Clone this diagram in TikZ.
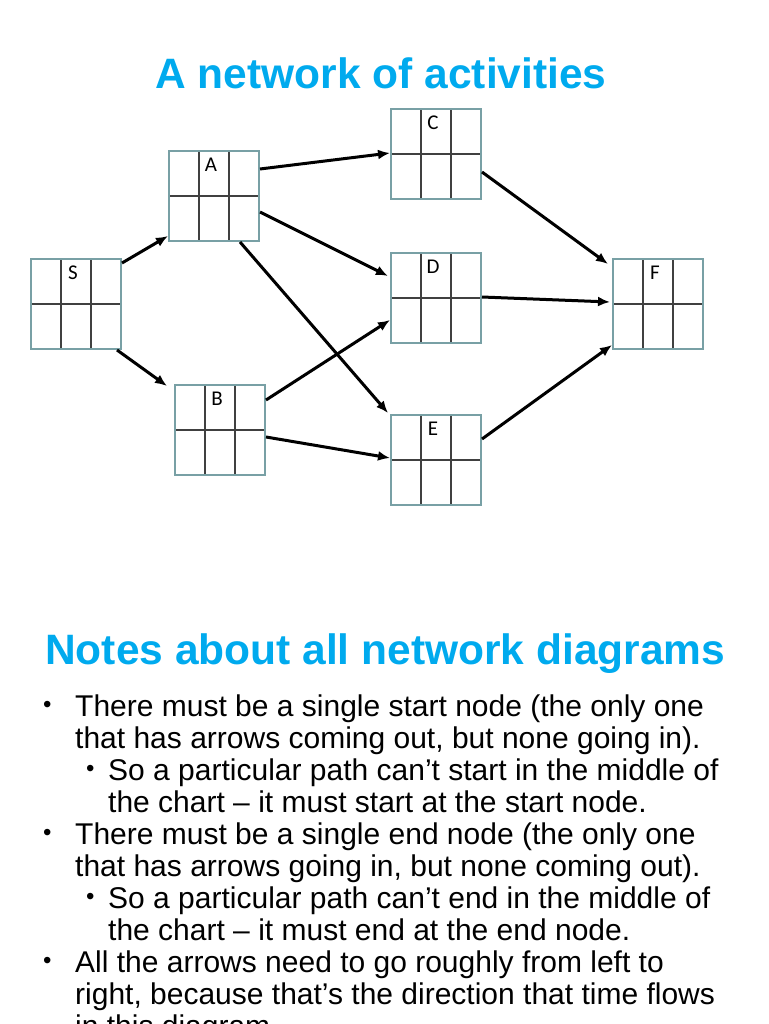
\documentclass[tikz,border=0pt]{standalone}
\usepackage{fontspec}
\setmainfont{Liberation Sans}
\newfontfamily\lblfont{Carlito}
\usetikzlibrary{arrows.meta}
\definecolor{ttl}{RGB}{0,170,238}
\definecolor{bx}{RGB}{120,160,165}
\begin{document}
\begin{tikzpicture}[x=1pt,y=-1pt,
  act/.style={draw=bx,line width=2pt,minimum size=90pt,inner sep=0pt,anchor=north west,
    path picture={\draw[line width=1.2pt,black!75] ([xshift=30pt]path picture bounding box.north west)--([xshift=30pt]path picture bounding box.south west)
      ([xshift=60pt]path picture bounding box.north west)--([xshift=60pt]path picture bounding box.south west)
      (path picture bounding box.west)--(path picture bounding box.east);}},
  lbl/.style={font=\lblfont\fontsize{21}{24}\selectfont,anchor=center},
  arr/.style={-{Latex[length=12pt,width=10pt]},line width=3pt},
  body/.style={anchor=base west,inner sep=0pt,font=\fontsize{30}{34}\selectfont},
  bul/.style={anchor=base west,inner sep=0pt,font=\fontsize{24}{28}\selectfont}]
\useasboundingbox (0,0) rectangle (768,1024);
\clip (0,0) rectangle (768,1024);
\node[anchor=base,text=ttl,font=\bfseries\fontsize{42.5}{46}\selectfont] (title) at (381,89) {A network of activities};
\foreach \n/\x/\y in {S/30/258,A/168/150,B/174/384,C/390/108,D/390/252,E/390/414,F/612/258}{
  \node[act] (\n) at (\x,\y) {};
  \node[lbl] (l\n) at (\x+43,\y+15) {\n};
}
\draw[arr] ([yshift=-5pt]S.north east) -- ([yshift=6pt]A.south west);
\draw[arr] ([xshift=-5pt]S.south east) -- ([xshift=-7pt,yshift=-2pt]B.north west);
\draw[arr] ([yshift=-19pt]A.north east) -- ([yshift=1pt]C.west);
\draw[arr] ([yshift=-62pt]A.north east) -- ([xshift=-2pt,yshift=-24pt]D.north west);
\draw[arr] ([xshift=-20pt]A.south east) -- ([xshift=-2pt,yshift=1pt]E.north west);
\draw[arr] ([yshift=-16pt]B.north east) -- ([yshift=24pt]D.south west);
\draw[arr] ([yshift=-53pt]B.north east) -- ([yshift=-44pt]E.north west);
\draw[arr] ([yshift=-64pt]C.north east) -- ([xshift=-4pt,yshift=-6pt]F.north west);
\draw[arr] ([yshift=-45pt]D.north east) -- ([xshift=-2pt,yshift=-44pt]F.north west);
\draw[arr] ([yshift=-25pt]E.north east) -- ([yshift=5pt]F.south west);
\node[anchor=base west,inner sep=0pt,text=ttl,font=\bfseries\fontsize{42.5}{46}\selectfont] (head) at (45,664) {Notes about all network diagrams};
\node[bul] (b1) at (43,712) {•};
\node[body] (t1) at (75,716) {There must be a single start node (the only one};
\node[body] (t2) at (75,748) {that has arrows coming out, but none going in).};
\node[bul] (b2) at (86,776) {•};
\node[body] (t3) at (108,780) {So a particular path can’t start in the middle of};
\node[body] (t4) at (108,812) {the chart – it must start at the start node.};
\node[bul] (b3) at (43,840) {•};
\node[body] (t5) at (75,844) {There must be a single end node (the only one};
\node[body] (t6) at (75,876) {that has arrows going in, but none coming out).};
\node[bul] (b4) at (86,904) {•};
\node[body] (t7) at (108,908) {So a particular path can’t end in the middle of};
\node[body] (t8) at (108,940) {the chart – it must end at the end node.};
\node[bul] (b5) at (43,968) {•};
\node[body] (t9) at (75,972) {All the arrows need to go roughly from left to};
\node[body] (t10) at (75,1004) {right, because that’s the direction that time flows};
\node[body] (t11) at (75,1036) {in this diagram.};
\end{tikzpicture}
\end{document}
